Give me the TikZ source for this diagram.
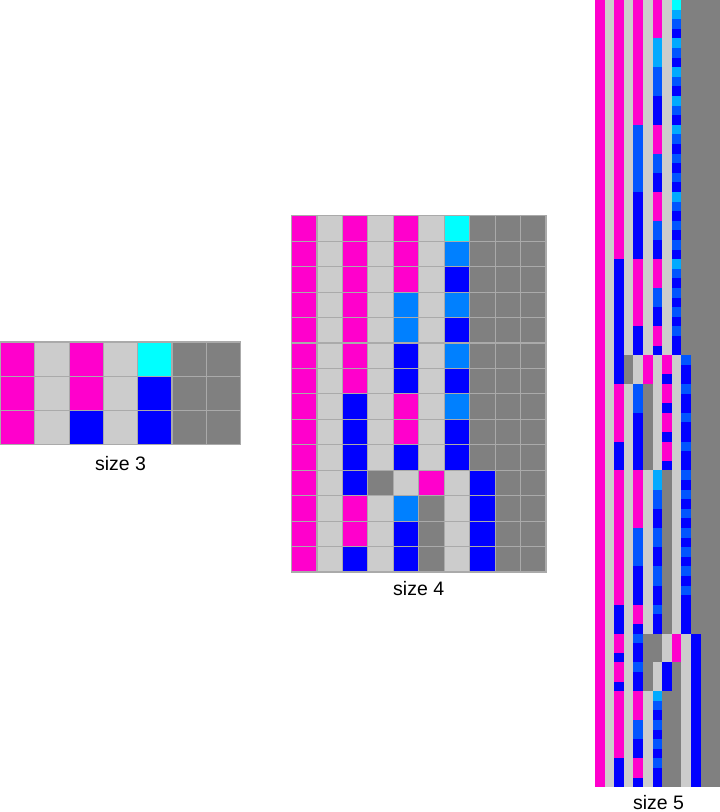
\documentclass[tikz,border=0pt]{standalone}
\usepackage{fontspec}
\setmainfont{Liberation Sans}
\definecolor{cM}{HTML}{FF00CC}
\definecolor{cL}{HTML}{CCCCCC}
\definecolor{cD}{HTML}{808080}
\definecolor{cC}{HTML}{00FFFF}
\definecolor{cA}{HTML}{0080FF}
\definecolor{cP}{HTML}{00AAFF}
\definecolor{cQ}{HTML}{0055FF}
\definecolor{cB}{HTML}{0000FF}
\definecolor{gridc}{HTML}{AAAAAA}
\newcommand\mygrid[5]{%
  \foreach \rw [count=\r from 0] in {#5} {
    \foreach \cl [count=\k from 0] in \rw {
      \path[#4, fill=c\cl] ({#1+\k*#3},{#2+\r*#3}) rectangle ++(#3,#3);
    }
  }%
}
\tikzset{
  big/.style={draw=gridc, line width=1.1pt},
  small/.style={},
  lbl/.style={font=\fontsize{19.5}{22}\selectfont, anchor=base, inner sep=0pt}
}
\begin{document}
\begin{tikzpicture}[x=1pt, y=-1pt]
\useasboundingbox[fill=white] (0,0) rectangle (720,812);
% size 3
\mygrid{0.5}{342}{34.3}{big}{
{M,L,M,L,C,D,D},
{M,L,M,L,B,D,D},
{M,L,B,L,B,D,D}}
% size 4
\mygrid{291.5}{215.7}{25.45}{big}{
{M,L,M,L,M,L,C,D,D,D},
{M,L,M,L,M,L,A,D,D,D},
{M,L,M,L,M,L,B,D,D,D},
{M,L,M,L,A,L,A,D,D,D},
{M,L,M,L,A,L,B,D,D,D},
{M,L,M,L,B,L,A,D,D,D},
{M,L,M,L,B,L,B,D,D,D},
{M,L,B,L,M,L,A,D,D,D},
{M,L,B,L,M,L,B,D,D,D},
{M,L,B,L,B,L,B,D,D,D},
{M,L,B,D,L,M,L,B,D,D},
{M,L,M,L,A,D,L,B,D,D},
{M,L,M,L,B,D,L,B,D,D},
{M,L,B,L,B,D,L,B,D,D}}
% size 5
\mygrid{595}{0}{9.6}{small}{
{M,L,M,L,M,L,M,L,C,D,D,D,D},
{M,L,M,L,M,L,M,L,P,D,D,D,D},
{M,L,M,L,M,L,M,L,Q,D,D,D,D},
{M,L,M,L,M,L,M,L,B,D,D,D,D},
{M,L,M,L,M,L,P,L,P,D,D,D,D},
{M,L,M,L,M,L,P,L,Q,D,D,D,D},
{M,L,M,L,M,L,P,L,B,D,D,D,D},
{M,L,M,L,M,L,Q,L,P,D,D,D,D},
{M,L,M,L,M,L,Q,L,Q,D,D,D,D},
{M,L,M,L,M,L,Q,L,B,D,D,D,D},
{M,L,M,L,M,L,B,L,P,D,D,D,D},
{M,L,M,L,M,L,B,L,Q,D,D,D,D},
{M,L,M,L,M,L,B,L,B,D,D,D,D},
{M,L,M,L,Q,L,M,L,P,D,D,D,D},
{M,L,M,L,Q,L,M,L,Q,D,D,D,D},
{M,L,M,L,Q,L,M,L,B,D,D,D,D},
{M,L,M,L,Q,L,Q,L,Q,D,D,D,D},
{M,L,M,L,Q,L,Q,L,B,D,D,D,D},
{M,L,M,L,Q,L,B,L,Q,D,D,D,D},
{M,L,M,L,Q,L,B,L,B,D,D,D,D},
{M,L,M,L,B,L,M,L,P,D,D,D,D},
{M,L,M,L,B,L,M,L,Q,D,D,D,D},
{M,L,M,L,B,L,M,L,B,D,D,D,D},
{M,L,M,L,B,L,Q,L,Q,D,D,D,D},
{M,L,M,L,B,L,Q,L,B,D,D,D,D},
{M,L,M,L,B,L,B,L,Q,D,D,D,D},
{M,L,M,L,B,L,B,L,B,D,D,D,D},
{M,L,B,L,M,L,M,L,P,D,D,D,D},
{M,L,B,L,M,L,M,L,Q,D,D,D,D},
{M,L,B,L,M,L,M,L,B,D,D,D,D},
{M,L,B,L,M,L,Q,L,Q,D,D,D,D},
{M,L,B,L,M,L,Q,L,B,D,D,D,D},
{M,L,B,L,M,L,B,L,Q,D,D,D,D},
{M,L,B,L,M,L,B,L,B,D,D,D,D},
{M,L,B,L,B,L,M,L,Q,D,D,D,D},
{M,L,B,L,B,L,M,L,B,D,D,D,D},
{M,L,B,L,B,L,B,L,B,D,D,D,D},
{M,L,B,D,L,M,L,M,L,Q,D,D,D},
{M,L,B,D,L,M,L,M,L,B,D,D,D},
{M,L,B,D,L,M,L,B,L,B,D,D,D},
{M,L,M,L,Q,D,L,M,L,Q,D,D,D},
{M,L,M,L,Q,D,L,M,L,B,D,D,D},
{M,L,M,L,Q,D,L,B,L,B,D,D,D},
{M,L,M,L,B,D,L,M,L,Q,D,D,D},
{M,L,M,L,B,D,L,M,L,B,D,D,D},
{M,L,M,L,B,D,L,B,L,B,D,D,D},
{M,L,B,L,B,D,L,M,L,Q,D,D,D},
{M,L,B,L,B,D,L,M,L,B,D,D,D},
{M,L,B,L,B,D,L,B,L,B,D,D,D},
{M,L,M,L,M,L,P,D,L,Q,D,D,D},
{M,L,M,L,M,L,P,D,L,B,D,D,D},
{M,L,M,L,M,L,Q,D,L,Q,D,D,D},
{M,L,M,L,M,L,Q,D,L,B,D,D,D},
{M,L,M,L,M,L,B,D,L,Q,D,D,D},
{M,L,M,L,M,L,B,D,L,B,D,D,D},
{M,L,M,L,Q,L,Q,D,L,Q,D,D,D},
{M,L,M,L,Q,L,Q,D,L,B,D,D,D},
{M,L,M,L,Q,L,B,D,L,Q,D,D,D},
{M,L,M,L,Q,L,B,D,L,B,D,D,D},
{M,L,M,L,B,L,Q,D,L,Q,D,D,D},
{M,L,M,L,B,L,Q,D,L,B,D,D,D},
{M,L,M,L,B,L,B,D,L,Q,D,D,D},
{M,L,M,L,B,L,B,D,L,B,D,D,D},
{M,L,B,L,M,L,Q,D,L,B,D,D,D},
{M,L,B,L,M,L,B,D,L,B,D,D,D},
{M,L,B,L,B,L,B,D,L,B,D,D,D},
{M,L,M,L,Q,D,D,L,M,L,B,D,D},
{M,L,M,L,B,D,D,L,M,L,B,D,D},
{M,L,B,L,B,D,D,L,M,L,B,D,D},
{M,L,M,L,Q,D,L,B,D,L,B,D,D},
{M,L,M,L,B,D,L,B,D,L,B,D,D},
{M,L,B,L,B,D,L,B,D,L,B,D,D},
{M,L,M,L,M,L,P,D,D,L,B,D,D},
{M,L,M,L,M,L,Q,D,D,L,B,D,D},
{M,L,M,L,M,L,B,D,D,L,B,D,D},
{M,L,M,L,Q,L,Q,D,D,L,B,D,D},
{M,L,M,L,Q,L,B,D,D,L,B,D,D},
{M,L,M,L,B,L,Q,D,D,L,B,D,D},
{M,L,M,L,B,L,B,D,D,L,B,D,D},
{M,L,B,L,M,L,Q,D,D,L,B,D,D},
{M,L,B,L,M,L,B,D,D,L,B,D,D},
{M,L,B,L,B,L,B,D,D,L,B,D,D}}
% labels
\node[lbl] (l3) at (120.5,470) {size 3};
\node[lbl] (l4) at (418.7,595) {size 4};
\node[lbl] (l5) at (658.5,809) {size 5};
\end{tikzpicture}
\end{document}
